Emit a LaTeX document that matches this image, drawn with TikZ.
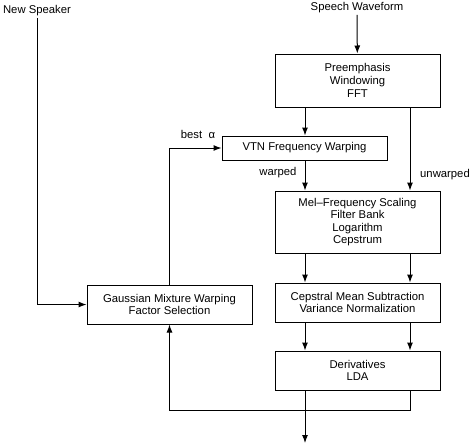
\documentclass[tikz,border=0pt]{standalone}
\usepackage{fontspec}
\setmainfont{Liberation Sans}
\usetikzlibrary{arrows.meta,positioning,calc}

\begin{document}
\begin{tikzpicture}[x=1pt, y=-1pt, line width=1pt,
  >={Latex[length=8pt,width=6pt]},
  block/.style={draw, align=center, minimum width=165pt, inner sep=2pt},
  lbl/.style={align=center, inner sep=1pt},
  every node/.style={font=\fontsize{11.3}{12.6}\selectfont}]
\useasboundingbox (0,0) rectangle (474,445);
%nodes
\node[lbl] (speaker) at (37,11) {New Speaker};
\node[lbl] (wave) at (357,8) {Speech Waveform};
\node[block, minimum height=53pt] (fft) at (357.5,80.5) {Preemphasis\\Windowing\\FFT};
\node[block, minimum height=24pt] (vtn) at (304.5,148) {VTN Frequency Warping};
\node[block, minimum height=62pt] (mel) at (357.5,222) {Mel--Frequency Scaling\\Filter Bank\\Logarithm\\Cepstrum};
\node[block, minimum height=39pt] (cms) at (357.5,302.5) {Cepstral Mean Subtraction\\Variance Normalization};
\node[block, minimum height=39pt] (lda) at (357.5,370.5) {Derivatives\\LDA};
\node[block, minimum height=39pt] (gmm) at (169.5,304.5) {Gaussian Mixture Warping\\Factor Selection};
\coordinate (lx) at (305,0);
\coordinate (rx) at (410,0);
\coordinate (out) at (305,443);
\node[lbl] (best) at (198,134) {best\ \ α};
\node[lbl] (warped) at (278,173) {warped};
\node[lbl] (unwarped) at (445,175) {unwarped};
%connectors
\draw[->] (wave) to (fft);
\draw[->] (fft.south -| lx) to (vtn.north -| lx);
\draw[->] (fft.south -| rx) to (mel.north -| rx);
\draw[->] (vtn.south -| lx) to (mel.north -| lx);
\draw[->] (mel.south -| lx) to (cms.north -| lx);
\draw[->] (mel.south -| rx) to (cms.north -| rx);
\draw[->] (cms.south -| lx) to (lda.north -| lx);
\draw[->] (cms.south -| rx) to (lda.north -| rx);
\draw[->] (lda.south -| lx) to (out);
\draw[->] (lda.south -| rx) -- ++(0,20) -| (gmm.south);
\draw[->] (gmm.north) |- (vtn.west);
\draw[->] (speaker.south) |- (gmm.west);
\end{tikzpicture}
\end{document}
